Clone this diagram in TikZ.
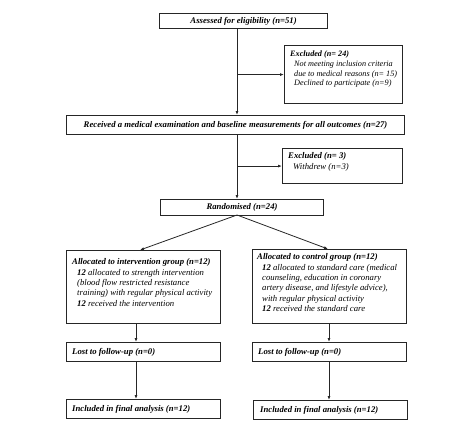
\documentclass[tikz,border=0pt]{standalone}
\usepackage{fontspec}
\setmainfont{Liberation Serif}
\usetikzlibrary{arrows.meta}
\begin{document}
\begin{tikzpicture}[x=1pt,y=-1pt,
  box/.style={draw=black!85, line width=1.1pt, inner sep=0pt, anchor=north west, font=\fontsize{8.7}{10}\selectfont\bfseries\itshape},
  txt/.style={font=\fontsize{8.7}{10.4}\selectfont\itshape, align=left, anchor=north west, inner sep=0pt},
  hd/.style={font=\fontsize{8.7}{10}\selectfont\bfseries\itshape, anchor=west, inner sep=0pt},
  arr/.style={-{Latex[length=4pt,width=3pt]}, line width=0.8pt, black!85},
]
\useasboundingbox (0,0) rectangle (474,437);

\node[box, minimum width=168pt, minimum height=15pt] (b1) at (159,13) {Assessed for eligibility (n=51)};
\node[box, minimum width=118pt, minimum height=58pt] (e1) at (284,45) {};
\node[txt, font=\fontsize{8.2}{9.7}\selectfont\itshape] (te1) at (290,51) {\textbf{Excluded (n= 24)}\\
\hspace*{4pt}Not meeting inclusion criteria\\
\hspace*{4pt}due to medical reasons (n= 15)\\
\hspace*{4pt}Declined to participate (n=9)};
\node[box, minimum width=338pt, minimum height=19pt] (b3) at (66,115) {Received a medical examination and baseline measurements for all outcomes (n=27)};
\node[box, minimum width=120pt, minimum height=35pt] (e2) at (282,148) {};
\node[txt] (te2) at (288,152.5) {\textbf{Excluded (n= 3)}\\
\hspace*{5pt}Withdrew (n=3)};
\node[box, minimum width=163pt, minimum height=16pt] (b5) at (160,199) {Randomised (n=24)};

\node[box, minimum width=154pt, minimum height=73pt] (g1) at (66,250) {};
\node[txt] (tg1) at (72,258.5) {\textbf{Allocated to intervention group (n=12)}\\
\hspace*{5pt}\textbf{12} allocated to strength intervention\\
\hspace*{5pt}(blood flow restricted resistance\\
\hspace*{5pt}training) with regular physical activity\\
\hspace*{5pt}\textbf{12} received the intervention};
\node[box, minimum width=154pt, minimum height=74pt] (g2) at (252,249) {};
\node[txt] (tg2) at (257,253.5) {\textbf{Allocated to control group (n=12)}\\
\hspace*{5pt}\textbf{12} allocated to standard care (medical\\
\hspace*{5pt}counseling, education in coronary\\
\hspace*{5pt}artery disease, and lifestyle advice),\\
\hspace*{5pt}with regular physical activity\\
\hspace*{5pt}\textbf{12} received the standard care};

\node[box, minimum width=154pt, minimum height=19pt] (l1) at (66,342) {};
\node[hd] (tl1) at ([xshift=6pt]l1.west) {Lost to follow-up (n=0)};
\node[box, minimum width=154pt, minimum height=19pt] (l2) at (252,342) {};
\node[hd] (tl2) at ([xshift=6pt]l2.west) {Lost to follow-up (n=0)};
\node[box, minimum width=154pt, minimum height=19pt] (f1) at (66,399) {};
\node[hd] (tf1) at ([xshift=6pt]f1.west) {Included in final analysis (n=12)};
\node[box, minimum width=154pt, minimum height=19pt] (f2) at (253,400) {};
\node[hd] (tf2) at ([xshift=7pt]f2.west) {Included in final analysis (n=12)};

\coordinate (v) at (237,0);
\coordinate (r) at (237,215);
\coordinate (ta) at (140,250);
\coordinate (tb) at (328,249);
\coordinate (xl) at (136,0);
\coordinate (xr) at (329,0);

\draw[arr] (v |- b1.south) -- (v |- b3.north);
\draw[arr] (v |- e1.west) -- (e1.west);
\draw[arr] (v |- b3.south) -- (v |- b5.north);
\draw[arr] (v |- e2.west) -- (e2.west);
\draw[arr] (r) -- (ta);
\draw[arr] (r) -- (tb);
\draw[arr] (xl |- g1.south) -- (xl |- l1.north);
\draw[arr] (xr |- g2.south) -- (xr |- l2.north);
\draw[arr] (xl |- l1.south) -- (xl |- f1.north);
\draw[arr] (xr |- l2.south) -- (xr |- f2.north);
\end{tikzpicture}
\end{document}
